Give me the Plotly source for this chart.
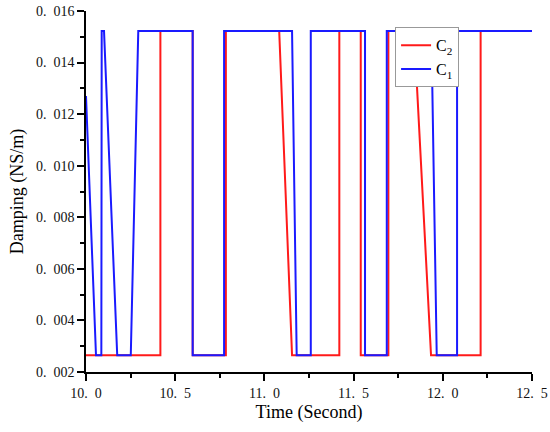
import plotly.graph_objects as go

# Damping levels switch between a high and a low value.
# C1 (blue) time points and damping values.
c1_time = [10.0, 10.056, 10.086, 10.088, 10.101, 10.175, 10.251, 10.293,
           10.598, 10.598, 10.774, 10.774, 11.155, 11.181, 11.26, 11.26,
           11.564, 11.564, 11.686, 11.686, 11.936, 11.966, 12.08, 12.08, 12.5]
c1_damping = [0.0127, 0.00265, 0.00265, 0.01522, 0.01522, 0.00265, 0.00265, 0.01522,
              0.01522, 0.00265, 0.00265, 0.01522, 0.01522, 0.00265, 0.00265, 0.01522,
              0.01522, 0.00265, 0.00265, 0.01522, 0.01522, 0.00265, 0.00265, 0.01522, 0.01522]

# C2 (red) time points and damping values.
c2_time = [10.0, 10.417, 10.417, 10.598, 10.598, 10.784, 10.784, 11.083,
           11.155, 11.42, 11.42, 11.54, 11.54, 11.695, 11.695, 11.839,
           11.934, 12.212, 12.212, 12.5]
c2_damping = [0.00265, 0.00265, 0.01522, 0.01522, 0.00265, 0.00265, 0.01522, 0.01522,
              0.00265, 0.00265, 0.01522, 0.01522, 0.00265, 0.00265, 0.01522, 0.01522,
              0.00265, 0.00265, 0.01522, 0.01522]

# Tick labels (wide gap after the point, like the original font).
x_ticks = [10.0, 10.5, 11.0, 11.5, 12.0, 12.5]
x_labels = ["10.\u20020", "10.\u20025", "11.\u20020", "11.\u20025", "12.\u20020", "12.\u20025"]
y_ticks = [0.002, 0.004, 0.006, 0.008, 0.010, 0.012, 0.014, 0.016]
y_labels = ["0.\u2002002", "0.\u2002004", "0.\u2002006", "0.\u2002008",
            "0.\u2002010", "0.\u2002012", "0.\u2002014", "0.\u2002016"]

fig = go.Figure()
fig.add_trace(go.Scatter(x=c2_time, y=c2_damping, mode='lines', name='C<sub>2</sub>',
    line=dict(color='#ff1a1a', width=2)))
fig.add_trace(go.Scatter(x=c1_time, y=c1_damping, mode='lines', name='C<sub>1</sub>',
    line=dict(color='#1a1aff', width=2)))

serif = "Liberation Serif"
axis_style = dict(showline=True, linecolor='black', linewidth=1.5, ticks='outside',
    ticklen=7, tickwidth=1.5, tickcolor='black', showgrid=False, zeroline=False,
    automargin=False, tickfont=dict(family=serif, size=14, color='#111'))

fig.update_layout(
    width=550, height=432,
    margin=dict(l=86, r=18, t=11, b=60),
    plot_bgcolor='white', paper_bgcolor='white',
    showlegend=True,
    legend=dict(x=0.693, y=0.955, xanchor='left', yanchor='top',
        bgcolor='white', bordercolor='#999', borderwidth=1,
        font=dict(family=serif, size=16, color='black')),
    xaxis=dict(range=[10.0, 12.5], tickvals=x_ticks, ticktext=x_labels,
        minor=dict(ticks='outside', ticklen=4, dtick=0.25, tickcolor='black'),
        title=dict(text='Time (Second)', font=dict(family=serif, size=18, color='black'),
            standoff=6),
        **axis_style),
    yaxis=dict(range=[0.002, 0.016], tickvals=y_ticks, ticktext=y_labels,
        minor=dict(ticks='outside', ticklen=4, dtick=0.001, tickcolor='black'),
        title=dict(text='Damping (NS/m)', font=dict(family=serif, size=18, color='black'),
            standoff=8),
        **axis_style),
)

# Drop the default page margin so the figure sits at the window's corner.
fig.write_html("out.html", config={'displayModeBar': False},
    post_script="document.body.style.margin='0';")
